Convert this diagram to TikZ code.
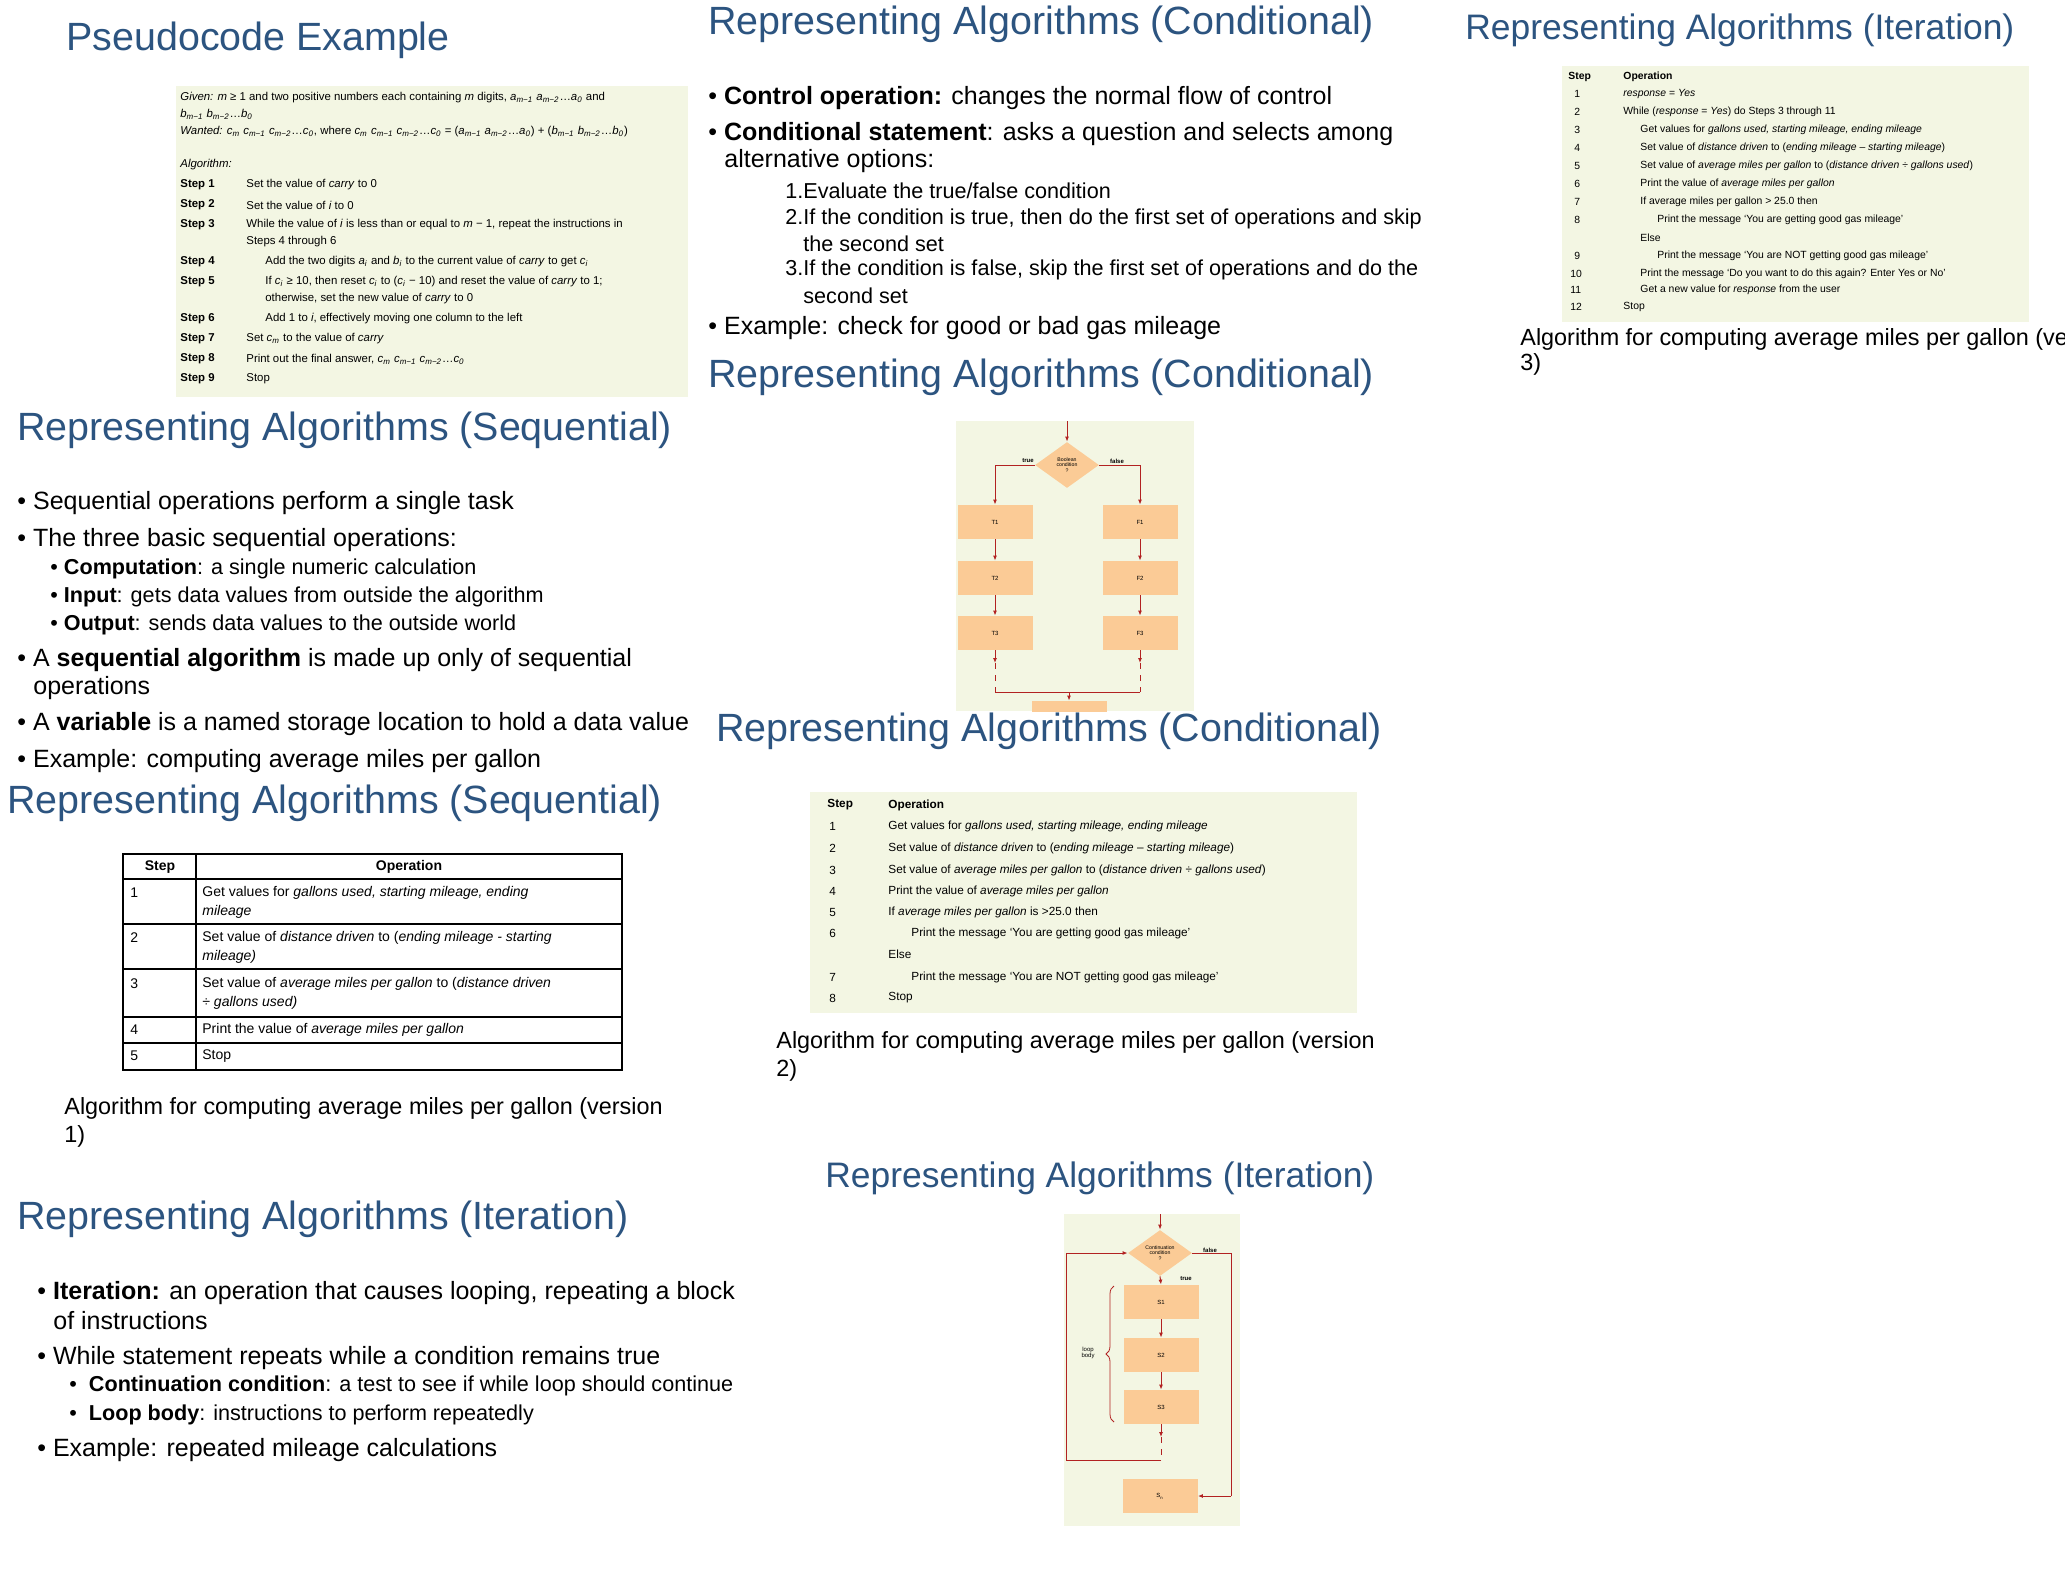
\documentclass[tikz,border=0pt]{standalone}
\usepackage{fontspec}
\setmainfont{Liberation Sans}
\usetikzlibrary{shapes.geometric,decorations.pathreplacing,arrows.meta}
\definecolor{tblue}{RGB}{44,84,128}
\definecolor{pgreen}{RGB}{243,246,227}
\definecolor{fbox}{RGB}{251,203,150}
\definecolor{fred}{RGB}{178,34,34}
\newcommand\fs[1]{\fontsize{#1}{#1}\selectfont}
\newcommand\sbx[2]{\textit{#1}\textsubscript{\textit{#2}}}
\begin{document}
\begin{tikzpicture}[x=0.5pt,y=-0.5pt,
  ttl/.style={anchor=west,inner sep=0,text=tblue,font=\fs{19.7}},
  bul/.style={anchor=west,inner sep=0,font=\fs{12.5}},
  sbul/.style={anchor=west,inner sep=0,font=\fs{10.8}},
  captxt/.style={anchor=west,inner sep=0,font=\fs{11.7}},
  pc/.style={anchor=west,inner sep=0,font=\fs{5.7}},
  rt/.style={anchor=west,inner sep=0,font=\fs{5.2}},
  vt/.style={anchor=west,inner sep=0,font=\fs{5.9}},
  st/.style={anchor=west,inner sep=0,font=\fs{7}},
  fb/.style={rectangle,fill=fbox,minimum width=37.5pt,minimum height=17pt,inner sep=0,font=\fs{3}},
  dia/.style={diamond,fill=fbox,minimum width=32pt,minimum height=23pt,inner sep=0,aspect=1.4,align=center,font=\fs{2.6}},
  rl/.style={draw=fred,line width=0.5pt},
  arr/.style={rl,-{Latex[length=2.5pt,width=2pt]}},
  fl/.style={inner sep=0,font=\bfseries\fs{3}}]
\useasboundingbox[fill=white] (0,0) rectangle (2065,1585);

% ---------- Pseudocode example
\node[ttl] (tp) at (66,40) {Pseudocode Example};
\fill[pgreen] (176,86) rectangle (688,397);
\node[pc] (g1) at (180,98) {\textit{Given: m} ≥ 1 and two positive numbers each containing \textit{m} digits, \sbx{a}{m−1} \sbx{a}{m−2}…\sbx{a}{0} and};
\node[pc] (g2) at (180,114) {\sbx{b}{m−1} \sbx{b}{m−2}…\sbx{b}{0}};
\node[pc] (g3) at (180,132) {\textit{Wanted:} \sbx{c}{m} \sbx{c}{m−1} \sbx{c}{m−2}…\sbx{c}{0}, where \sbx{c}{m} \sbx{c}{m−1} \sbx{c}{m−2}…\sbx{c}{0} = (\sbx{a}{m−1} \sbx{a}{m−2}…\sbx{a}{0}) + (\sbx{b}{m−1} \sbx{b}{m−2}…\sbx{b}{0})};
\node[pc] (g4) at (180,165) {\textit{Algorithm:}};
\node[pc] (s1) at (180,185) {\textbf{Step 1}}; \node[pc] (s1t) at (246,185) {Set the value of \textit{carry} to 0};
\node[pc] (s2) at (180,205) {\textbf{Step 2}}; \node[pc] (s2t) at (246,205) {Set the value of \textit{i} to 0};
\node[pc] (s3) at (180,225) {\textbf{Step 3}}; \node[pc] (s3t) at (246,225) {While the value of \textit{i} is less than or equal to \textit{m} − 1, repeat the instructions in};
\node[pc] (s3u) at (246,242) {Steps 4 through 6};
\node[pc] (s4) at (180,262) {\textbf{Step 4}}; \node[pc] (s4t) at (265,262) {Add the two digits \sbx{a}{i} and \sbx{b}{i} to the current value of \textit{carry} to get \sbx{c}{i}};
\node[pc] (s5) at (180,282) {\textbf{Step 5}}; \node[pc] (s5t) at (265,282) {If \sbx{c}{i} ≥ 10, then reset \sbx{c}{i} to (\sbx{c}{i} − 10) and reset the value of \textit{carry} to 1;};
\node[pc] (s5u) at (265,299) {otherwise, set the new value of \textit{carry} to 0};
\node[pc] (s6) at (180,319) {\textbf{Step 6}}; \node[pc] (s6t) at (265,319) {Add 1 to \textit{i}, effectively moving one column to the left};
\node[pc] (s7) at (180,339) {\textbf{Step 7}}; \node[pc] (s7t) at (246,339) {Set \sbx{c}{m} to the value of \textit{carry}};
\node[pc] (s8) at (180,359) {\textbf{Step 8}}; \node[pc] (s8t) at (246,359) {Print out the final answer, \sbx{c}{m} \sbx{c}{m−1} \sbx{c}{m−2}…\sbx{c}{0}};
\node[pc] (s9) at (180,379) {\textbf{Step 9}}; \node[pc] (s9t) at (246,379) {Stop};

% ---------- Sequential 1
\node[ttl] (tq1) at (17,430) {Representing Algorithms (Sequential)};
\node[bul] (q1) at (17,503) {•\ Sequential operations perform a single task};
\node[bul] (q2) at (17,540) {•\ The three basic sequential operations:};
\node[sbul] (q3) at (50,569) {•\ \textbf{Computation}: a single numeric calculation};
\node[sbul] (q4) at (50,597) {•\ \textbf{Input}: gets data values from outside the algorithm};
\node[sbul] (q5) at (50,625) {•\ \textbf{Output}: sends data values to the outside world};
\node[bul] (q6) at (17,660) {•\ A \textbf{sequential algorithm} is made up only of sequential};
\node[bul] (q6b) at (33,688) {operations};
\node[bul] (q7) at (17,724) {•\ A \textbf{variable} is a named storage location to hold a data value};
\node[bul] (q8) at (17,761) {•\ Example: computing average miles per gallon};

% ---------- Sequential 2 table
\node[ttl] (tq2) at (7,803) {Representing Algorithms (Sequential)};
\draw[line width=0.7pt] (123,854) rectangle (622,1070);
\foreach \yy in {879,924,969,1017,1043} \draw[line width=0.7pt] (123,\yy) -- (622,\yy);
\draw[line width=0.7pt] (196,854) -- (196,1070);
\node[st,anchor=center] (h1) at (160,867) {\textbf{Step}};
\node[st,anchor=center] (h2) at (409,867) {\textbf{Operation}};
\node[st] (r1) at (130,893) {1}; \node[st] (r1a) at (202,893) {Get values for \textit{gallons used, starting mileage, ending}}; \node[st] (r1b) at (202,912) {\textit{mileage}};
\node[st] (r2) at (130,938) {2}; \node[st] (r2a) at (202,938) {Set value of \textit{distance driven} to (\textit{ending mileage - starting}}; \node[st] (r2b) at (202,957) {\textit{mileage)}};
\node[st] (r3) at (130,984) {3}; \node[st] (r3a) at (202,984) {Set value of \textit{average miles per gallon} to (\textit{distance driven}}; \node[st] (r3b) at (202,1003) {\textit{÷ gallons used)}};
\node[st] (r4) at (130,1030) {4}; \node[st] (r4a) at (202,1030) {Print the value of \textit{average miles per gallon}};
\node[st] (r5) at (130,1056) {5}; \node[st] (r5a) at (202,1056) {Stop};
\node[captxt] (c1) at (64,1108) {Algorithm for computing average miles per gallon (version};
\node[captxt] (c1b) at (64,1136) {1)};

% ---------- Iteration left
\node[ttl] (ti1) at (17,1219) {Representing Algorithms (Iteration)};
\node[bul] (i1) at (37,1293) {•\ \textbf{Iteration:} an operation that causes looping, repeating a block};
\node[bul] (i1b) at (53,1321) {of instructions};
\node[bul] (i2) at (37,1358) {•\ While statement repeats while a condition remains true};
\node[sbul] (i3) at (69,1386) {•\ \ \textbf{Continuation condition}: a test to see if while loop should continue};
\node[sbul] (i4) at (69,1415) {•\ \ \textbf{Loop body}: instructions to perform repeatedly};
\node[bul] (i5) at (37,1450) {•\ Example: repeated mileage calculations};

% ---------- Conditional 1
\node[ttl] (tc1) at (708,24) {Representing Algorithms (Conditional)};
\node[bul] (k1) at (708,98) {•\ \textbf{Control operation:} changes the normal flow of control};
\node[bul] (k2) at (708,134) {•\ \textbf{Conditional statement}: asks a question and selects among};
\node[bul] (k2b) at (724,161) {alternative options:};
\node[sbul] (k3) at (785,191) {1.Evaluate the true/false condition};
\node[sbul] (k4) at (785,219) {2.If the condition is true, then do the first set of operations and skip};
\node[sbul] (k4b) at (803,244) {the second set};
\node[sbul] (k5) at (785,270) {3.If the condition is false, skip the first set of operations and do the};
\node[sbul] (k5b) at (803,296) {second set};
\node[bul] (k6) at (708,328) {•\ Example: check for good or bad gas mileage};

% ---------- Conditional 2 flowchart
\node[ttl] (tc2) at (708,377) {Representing Algorithms (Conditional)};
\fill[pgreen] (956,421) rectangle (1194,711);
\begin{scope}
\clip (956,421) rectangle (1194,711);
\node[dia] (bc) at (1067,465) {Boolean\\condition\\?};
\coordinate (ct) at (1067,421);
\node[fb] (t1) at (995,522) {T1}; \node[fb] (t2) at (995,578) {T2}; \node[fb] (t3) at (995,633) {T3};
\node[fb] (f1) at (1140,522) {F1}; \node[fb] (f2) at (1140,578) {F2}; \node[fb] (f3) at (1140,633) {F3};
\node[fb] (nb) at (1069,718) {};
\draw[arr] (ct) -- (bc.north);
\draw[arr] (bc.west) -| (t1.north);
\draw[arr] (bc.east) -| (f1.north);
\node[fl] (lt) at (1028,461) {true};
\node[fl] (lf) at (1117,461) {false};
\draw[arr] (t1) -- (t2); \draw[arr] (t2) -- (t3);
\draw[arr] (f1) -- (f2); \draw[arr] (f2) -- (f3);
\coordinate (ta) at (995,663); \coordinate (tj) at (995,692);
\coordinate (fa) at (1140,663); \coordinate (fj) at (1140,692);
\coordinate (mj) at (1069,692);
\draw[arr] (t3.south) -- (ta); \draw[rl,dashed] (ta) -- (tj);
\draw[arr] (f3.south) -- (fa); \draw[rl,dashed] (fa) -- (fj);
\draw[rl] (tj) -- (fj);
\draw[arr] (mj) -- (nb.north);
\end{scope}

% ---------- Conditional 3 table
\node[ttl] (tc3) at (716,731) {Representing Algorithms (Conditional)};
\fill[pgreen] (810,792) rectangle (1357,1013);
\node[vt] (v0) at (827,805) {\textbf{Step}}; \node[vt] (v0t) at (888,805) {\textbf{Operation}};
\node[vt] (v1) at (829,826) {1}; \node[vt] (v1t) at (888,826) {Get values for \textit{gallons used, starting mileage, ending mileage}};
\node[vt] (v2) at (829,848) {2}; \node[vt] (v2t) at (888,848) {Set value of \textit{distance driven} to (\textit{ending mileage} – \textit{starting mileage})};
\node[vt] (v3) at (829,870) {3}; \node[vt] (v3t) at (888,870) {Set value of \textit{average miles per gallon} to (\textit{distance driven} ÷ \textit{gallons used})};
\node[vt] (v4) at (829,891) {4}; \node[vt] (v4t) at (888,891) {Print the value of \textit{average miles per gallon}};
\node[vt] (v5) at (829,912) {5}; \node[vt] (v5t) at (888,912) {If \textit{average miles per gallon} is >25.0 then};
\node[vt] (v6) at (829,933) {6}; \node[vt] (v6t) at (911,933) {Print the message ‘You are getting good gas mileage’};
\node[vt] (ve) at (888,954) {Else};
\node[vt] (v7) at (829,977) {7}; \node[vt] (v7t) at (911,977) {Print the message ‘You are NOT getting good gas mileage’};
\node[vt] (v8) at (829,998) {8}; \node[vt] (v8t) at (888,998) {Stop};
\node[captxt] (c2) at (776,1042) {Algorithm for computing average miles per gallon (version};
\node[captxt] (c2b) at (776,1070) {2)};

% ---------- Iteration flowchart
\node[ttl,font=\fs{17.7}] (ti2) at (825,1178) {Representing Algorithms (Iteration)};
\fill[pgreen] (1064,1214) rectangle (1240,1526);
\node[dia] (cc) at (1160,1253) {Continuation\\condition\\?};
\coordinate (it) at (1160,1214);
\node[fb] (a1) at (1161,1302) {S1}; \node[fb] (a2) at (1161,1355) {S2}; \node[fb] (a3) at (1161,1407) {S3};
\node[fb] (sn) at (1160,1496) {S\textsubscript{n}};
\draw[arr] (it) -- (cc.north);
\draw[arr] (cc.south) -- (a1.north);
\draw[arr] (a1) -- (a2); \draw[arr] (a2) -- (a3);
\coordinate (ia) at (1161,1437); \coordinate (ib) at (1161,1460); \coordinate (ic) at (1066,1460);
\coordinate (id) at (1066,1253);
\draw[arr] (a3.south) -- (ia); \draw[rl,dashed] (ia) -- (ib);
\draw[rl] (ib) -- (ic) -- (id); \draw[arr] (id) -- (cc.west);
\coordinate (ie) at (1231,1253); \coordinate (ig) at (1231,1496);
\draw[rl] (cc.east) -- (ie) -- (ig); \draw[arr] (ig) -- (sn.east);
\node[fl] (lf2) at (1210,1250) {false};
\node[fl] (lt2) at (1186,1279) {true};
\coordinate (b1) at (1114,1422); \coordinate (b2) at (1114,1286);
\draw[fred,line width=0.4pt,decorate,decoration={brace,amplitude=4pt}] (b1) -- (b2);
\node[inner sep=0,align=center,font=\fs{3}] (lb) at (1088,1353) {loop\\body};

% ---------- Iteration right
\node[ttl,font=\fs{17.7}] (ti3) at (1465,30) {Representing Algorithms (Iteration)};
\fill[pgreen] (1562,66) rectangle (2029,322);
\node[rt] (w0) at (1568,77) {\textbf{Step}}; \node[rt] (w0t) at (1623,77) {\textbf{Operation}};
\node[rt] (w1) at (1574,94) {1}; \node[rt] (w1t) at (1623,94) {\textit{response} = \textit{Yes}};
\node[rt] (w2) at (1574,112) {2}; \node[rt] (w2t) at (1623,112) {While (\textit{response} = \textit{Yes}) do Steps 3 through 11};
\node[rt] (w3) at (1574,130) {3}; \node[rt] (w3t) at (1640,130) {Get values for \textit{gallons used, starting mileage, ending mileage}};
\node[rt] (w4) at (1574,148) {4}; \node[rt] (w4t) at (1640,148) {Set value of \textit{distance driven} to (\textit{ending mileage} – \textit{starting mileage})};
\node[rt] (w5) at (1574,166) {5}; \node[rt] (w5t) at (1640,166) {Set value of \textit{average miles per gallon} to (\textit{distance driven} ÷ \textit{gallons used})};
\node[rt] (w6) at (1574,184) {6}; \node[rt] (w6t) at (1640,184) {Print the value of \textit{average miles per gallon}};
\node[rt] (w7) at (1574,202) {7}; \node[rt] (w7t) at (1640,202) {If average miles per gallon > 25.0 then};
\node[rt] (w8) at (1574,220) {8}; \node[rt] (w8t) at (1657,220) {Print the message ‘You are getting good gas mileage’};
\node[rt] (we) at (1640,238) {Else};
\node[rt] (w9) at (1574,256) {9}; \node[rt] (w9t) at (1657,256) {Print the message ‘You are NOT getting good gas mileage’};
\node[rt] (w10) at (1570,274) {10}; \node[rt] (w10t) at (1640,274) {Print the message ‘Do you want to do this again? Enter Yes or No’};
\node[rt] (w11) at (1570,290) {11}; \node[rt] (w11t) at (1640,290) {Get a new value for \textit{response} from the user};
\node[rt] (w12) at (1570,307) {12}; \node[rt] (w12t) at (1623,307) {Stop};
\node[captxt] (c3) at (1520,339) {Algorithm for computing average miles per gallon (version};
\node[captxt] (c3b) at (1520,364) {3)};
\end{tikzpicture}
\end{document}
